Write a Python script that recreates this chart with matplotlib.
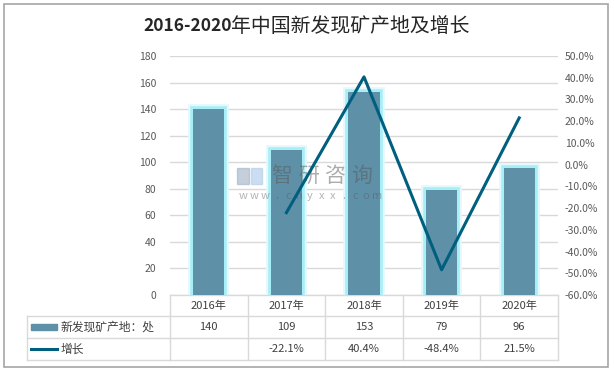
import matplotlib
matplotlib.use("Agg")
import matplotlib.pyplot as plt
import matplotlib.patheffects as pe
from matplotlib.transforms import blended_transform_factory
from matplotlib.patches import Rectangle

years = ["2016年", "2017年", "2018年", "2019年", "2020年"]
new_sites = [140, 109, 153, 79, 96]
growth = [None, -22.1, 40.4, -48.4, 21.5]
series_names = ["新发现矿产地：处", "增长"]
title_num = "2016-2020"
title_txt = "年中国新发现矿产地及增长"

plt.rcParams['font.family'] = ['Noto Sans CJK SC', 'DejaVu Sans']

W, H = 614, 374
fig = plt.figure(figsize=(W / 100, H / 100), dpi=100)

def fy(py):  # pixel row from top -> figure fraction
    return 1 - py / H

def fx(px):
    return px / W

bar_color = '#5E90A8'
line_color = '#005F7F'
grid_color = '#D9D9D9'
text_color = '#404040'
tick_color = '#595959'

# outer border
fig.add_artist(Rectangle((fx(4), fy(367)), fx(604), (363) / H, transform=fig.transFigure,
                         fill=False, edgecolor='#A6A6A6', linewidth=1.2))

# title: bold digits + CJK part
fig.text(fx(232), fy(26), title_num, ha='right', va='center', fontsize=12.5,
         fontweight='bold', color='#262626')
fig.text(fx(231), fy(26), title_txt, ha='left', va='center', fontsize=14.3,
         fontweight='medium', color='#262626')

ax = fig.add_axes([fx(170), fy(295), fx(388), 239 / H])
x = list(range(len(years)))
bars = ax.bar(x, new_sites, width=0.4, color=bar_color, zorder=3)
for b in bars:
    b.set_path_effects([pe.Stroke(linewidth=7, foreground='#E3F9FC'),
                        pe.Stroke(linewidth=4, foreground='#A8EEF7'),
                        pe.Normal()])
ax.set_xlim(-0.5, len(years) - 0.5)
ax.set_ylim(0, 180)
ax.set_yticks(range(0, 181, 20))
ax.yaxis.grid(True, color=grid_color, linewidth=1)
ax.set_axisbelow(True)
ax.set_xticks([])
for s in ax.spines.values():
    s.set_visible(False)
ax.tick_params(axis='y', length=0, labelsize=7.5, labelcolor=tick_color, pad=10)

ax2 = ax.twinx()
gx = [i for i, g in enumerate(growth) if g is not None]
gy = [g / 100 for g in growth if g is not None]
ax2.plot(gx, gy, color=line_color, linewidth=2.2, zorder=4)
ax2.set_ylim(-0.6, 0.5)
ax2.set_yticks([i / 10 for i in range(-6, 6)])
ax2.set_yticklabels([f"{i * 10:.1f}%" for i in range(-6, 6)])
for s in ax2.spines.values():
    s.set_visible(False)
ax2.tick_params(axis='y', length=0, labelsize=7.5, labelcolor=tick_color, pad=5)

# watermark (over bars, under the line)
wm = "智研咨询"
for k, ch in enumerate(wm):
    ax2.text(fx(282 + 26.5 * k), fy(175.5), ch, transform=fig.transFigure, fontsize=15,
             color='#5A5A5A', alpha=0.5, ha='center', va='center', zorder=2)
url = "www.chyxx.com"
for k, ch in enumerate(url):
    ax2.text(fx(243 + 11.2 * k), fy(196), ch, transform=fig.transFigure, fontsize=8,
             color='#5A5A5A', alpha=0.45, ha='center', va='center', zorder=2)
ax2.add_artist(Rectangle((fx(237), fy(184)), 12 / W, 16 / H, transform=fig.transFigure,
                         color='#9FB0C6', alpha=0.6, zorder=2))
ax2.add_artist(Rectangle((fx(251), fy(184)), 11 / W, 16 / H, transform=fig.transFigure,
                         color='#B5D0EC', alpha=0.7, zorder=2))

# data table
tr = blended_transform_factory(ax.transData, fig.transFigure)
rows_y = [295, 316, 338, 360]
lw = 1
for yy in rows_y:
    if yy != 295:
        fig.add_artist(plt.Line2D([fx(27), fx(170)], [fy(yy), fy(yy)], transform=fig.transFigure,
                                  color=grid_color, linewidth=lw))
    ax.add_line(plt.Line2D([-0.5, len(years) - 0.5], [fy(yy), fy(yy)], transform=tr,
                           color=grid_color, linewidth=lw, clip_on=False))
for i in range(len(years) + 1):
    ax.add_line(plt.Line2D([i - 0.5, i - 0.5], [fy(295), fy(360)], transform=tr,
                           color=grid_color, linewidth=lw, clip_on=False))
fig.add_artist(plt.Line2D([fx(27), fx(27)], [fy(316), fy(360)], transform=fig.transFigure,
                          color=grid_color, linewidth=lw))

for i, yr in enumerate(years):
    ax.text(i, fy(306), yr, transform=tr, ha='center', va='center', fontsize=8, color=text_color)
    ax.text(i, fy(327.5), str(new_sites[i]), transform=tr, ha='center', va='center',
            fontsize=8, color=text_color)
    if growth[i] is not None:
        ax.text(i, fy(349.5), f"{growth[i]:.1f}%", transform=tr, ha='center', va='center',
                fontsize=8, color=text_color)

fig.add_artist(Rectangle((fx(31), fy(330)), 26 / W, 6 / H, transform=fig.transFigure,
                         color=bar_color))
fig.add_artist(plt.Line2D([fx(31), fx(57)], [fy(349), fy(349)], transform=fig.transFigure,
                          color=line_color, linewidth=2.2))
fig.text(fx(61), fy(327.5), series_names[0], ha='left', va='center', fontsize=8.5, color=text_color)
fig.text(fx(61), fy(349.5), series_names[1], ha='left', va='center', fontsize=8.5, color=text_color)

fig.savefig("out.png", dpi=100)
